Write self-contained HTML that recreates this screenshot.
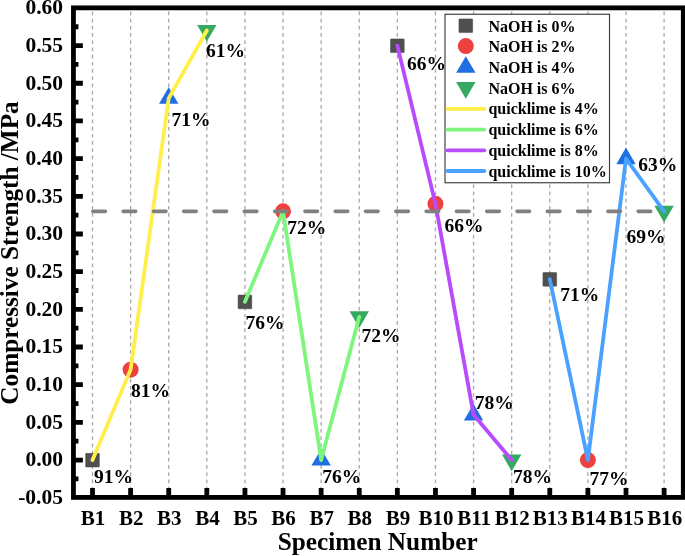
<!DOCTYPE html><html><head><meta charset="utf-8"><style>html,body{margin:0;padding:0;background:#fff;}svg{display:block;}text{font-family:"Liberation Serif","Times New Roman",serif;font-weight:bold;fill:#000;}</style></head><body>
<svg width="685" height="556" viewBox="0 0 685 556">
<rect width="685" height="556" fill="#fff"/>
<path d="M92.50,11.5V495.00M130.61,11.5V495.00M168.71,11.5V495.00M206.82,11.5V495.00M244.93,11.5V495.00M283.03,11.5V495.00M321.14,11.5V495.00M359.25,11.5V495.00M397.36,11.5V495.00M435.46,11.5V495.00M473.57,11.5V495.00M511.68,11.5V495.00M549.78,11.5V495.00M587.89,11.5V495.00M626.00,11.5V495.00M664.11,11.5V495.00" stroke="#a8a8a8" stroke-width="1.3" stroke-dasharray="3.7 3.5" fill="none"/>
<rect x="85.65" y="453.36" width="13.7" height="13.7" rx="0.6" fill="#505050" stroke="#464646" stroke-width="0.5"/>
<circle cx="130.61" cy="369.63" r="8" fill="#ef4040"/>
<polygon points="168.71,87.27 159.01,103.87 178.41,103.87" fill="#1f6fe3"/>
<polygon points="206.82,41.57 197.12,24.97 216.52,24.97" fill="#35a862"/>
<rect x="238.08" y="295.10" width="13.7" height="13.7" rx="0.6" fill="#505050" stroke="#464646" stroke-width="0.5"/>
<circle cx="283.03" cy="211.37" r="8" fill="#ef4040"/>
<polygon points="321.14,448.99 311.44,465.59 330.84,465.59" fill="#1f6fe3"/>
<polygon points="359.25,327.94 349.55,311.34 368.95,311.34" fill="#35a862"/>
<rect x="390.51" y="38.88" width="13.7" height="13.7" rx="0.6" fill="#505050" stroke="#464646" stroke-width="0.5"/>
<circle cx="435.46" cy="203.84" r="8" fill="#ef4040"/>
<polygon points="473.57,403.78 463.87,420.38 483.27,420.38" fill="#1f6fe3"/>
<polygon points="511.68,471.13 501.98,454.53 521.38,454.53" fill="#35a862"/>
<rect x="542.93" y="272.50" width="13.7" height="13.7" rx="0.6" fill="#505050" stroke="#464646" stroke-width="0.5"/>
<circle cx="587.89" cy="460.06" r="8" fill="#ef4040"/>
<polygon points="626.00,147.55 616.30,164.15 635.70,164.15" fill="#1f6fe3"/>
<polygon points="664.11,222.44 654.40,205.84 673.81,205.84" fill="#35a862"/>
<path d="M92.50,460.06 L130.61,369.63 L168.71,98.33 L206.82,30.51" stroke="#ffef4a" stroke-width="3.8" stroke-linecap="round" stroke-linejoin="round" fill="none"/>
<path d="M244.93,301.80 L283.03,211.37 L321.14,460.06 L359.25,316.88" stroke="#7ef67e" stroke-width="3.8" stroke-linecap="round" stroke-linejoin="round" fill="none"/>
<path d="M397.36,45.58 L435.46,203.84 L473.57,414.84 L511.68,460.06" stroke="#b84cfc" stroke-width="3.8" stroke-linecap="round" stroke-linejoin="round" fill="none"/>
<path d="M549.78,279.20 L587.89,460.06 L626.00,158.62 L664.11,211.37" stroke="#49a2ff" stroke-width="3.8" stroke-linecap="round" stroke-linejoin="round" fill="none"/>
<path d="M92.80,211.37H664.00" stroke="#808080" stroke-width="3.6" stroke-linecap="round" stroke-dasharray="12.6 17.7" fill="none"/>
<rect x="73.45" y="7.85" width="609.85" height="489.55" fill="none" stroke="#000" stroke-width="4.8"/>
<path d="M74.85,45.58H82.85M74.85,83.26H82.85M74.85,120.94H82.85M74.85,158.62H82.85M74.85,196.30H82.85M74.85,233.98H82.85M74.85,271.66H82.85M74.85,309.34H82.85M74.85,347.02H82.85M74.85,384.70H82.85M74.85,422.38H82.85M74.85,460.06H82.85M74.85,26.74H78.45M74.85,64.42H78.45M74.85,102.10H78.45M74.85,139.78H78.45M74.85,177.46H78.45M74.85,215.14H78.45M74.85,252.82H78.45M74.85,290.50H78.45M74.85,328.18H78.45M74.85,365.86H78.45M74.85,403.54H78.45M74.85,441.22H78.45M74.85,478.90H78.45M92.50,496.00V488.00M130.61,496.00V488.00M168.71,496.00V488.00M206.82,496.00V488.00M244.93,496.00V488.00M283.03,496.00V488.00M321.14,496.00V488.00M359.25,496.00V488.00M397.36,496.00V488.00M435.46,496.00V488.00M473.57,496.00V488.00M511.68,496.00V488.00M549.78,496.00V488.00M587.89,496.00V488.00M626.00,496.00V488.00M664.11,496.00V488.00" stroke="#000" stroke-width="4.8" fill="none"/>
<text x="63.0" y="14.30" font-size="21.5" text-anchor="end">0.60</text>
<text x="63.0" y="51.98" font-size="21.5" text-anchor="end">0.55</text>
<text x="63.0" y="89.66" font-size="21.5" text-anchor="end">0.50</text>
<text x="63.0" y="127.34" font-size="21.5" text-anchor="end">0.45</text>
<text x="63.0" y="165.02" font-size="21.5" text-anchor="end">0.40</text>
<text x="63.0" y="202.70" font-size="21.5" text-anchor="end">0.35</text>
<text x="63.0" y="240.38" font-size="21.5" text-anchor="end">0.30</text>
<text x="63.0" y="278.06" font-size="21.5" text-anchor="end">0.25</text>
<text x="63.0" y="315.74" font-size="21.5" text-anchor="end">0.20</text>
<text x="63.0" y="353.42" font-size="21.5" text-anchor="end">0.15</text>
<text x="63.0" y="391.10" font-size="21.5" text-anchor="end">0.10</text>
<text x="63.0" y="428.78" font-size="21.5" text-anchor="end">0.05</text>
<text x="63.0" y="466.46" font-size="21.5" text-anchor="end">0.00</text>
<text x="63.0" y="504.14" font-size="21.5" text-anchor="end">-0.05</text>
<text x="93.10" y="524.6" font-size="21" text-anchor="middle">B1</text>
<text x="131.21" y="524.6" font-size="21" text-anchor="middle">B2</text>
<text x="169.31" y="524.6" font-size="21" text-anchor="middle">B3</text>
<text x="207.42" y="524.6" font-size="21" text-anchor="middle">B4</text>
<text x="245.53" y="524.6" font-size="21" text-anchor="middle">B5</text>
<text x="283.63" y="524.6" font-size="21" text-anchor="middle">B6</text>
<text x="321.74" y="524.6" font-size="21" text-anchor="middle">B7</text>
<text x="359.85" y="524.6" font-size="21" text-anchor="middle">B8</text>
<text x="397.96" y="524.6" font-size="21" text-anchor="middle">B9</text>
<text x="436.06" y="524.6" font-size="21" text-anchor="middle">B10</text>
<text x="474.17" y="524.6" font-size="21" text-anchor="middle">B11</text>
<text x="512.28" y="524.6" font-size="21" text-anchor="middle">B12</text>
<text x="550.38" y="524.6" font-size="21" text-anchor="middle">B13</text>
<text x="588.49" y="524.6" font-size="21" text-anchor="middle">B14</text>
<text x="626.60" y="524.6" font-size="21" text-anchor="middle">B15</text>
<text x="664.71" y="524.6" font-size="21" text-anchor="middle">B16</text>
<text x="377.7" y="550.1" font-size="25.25" text-anchor="middle">Specimen Number</text>
<text transform="translate(17.6,253.0) rotate(-90)" x="0" y="0" font-size="25.25" text-anchor="middle">Compressive Strength /MPa</text>
<text x="94.10" y="483.00" font-size="19.5">91%</text>
<text x="131.00" y="397.00" font-size="19.5">81%</text>
<text x="171.60" y="126.20" font-size="19.5">71%</text>
<text x="206.00" y="56.90" font-size="19.5">61%</text>
<text x="245.60" y="328.60" font-size="19.5">76%</text>
<text x="287.20" y="233.90" font-size="19.5">72%</text>
<text x="322.30" y="483.20" font-size="19.5">76%</text>
<text x="361.60" y="341.90" font-size="19.5">72%</text>
<text x="407.00" y="70.10" font-size="19.5">66%</text>
<text x="444.50" y="231.70" font-size="19.5">66%</text>
<text x="474.80" y="408.60" font-size="19.5">78%</text>
<text x="513.10" y="483.20" font-size="19.5">78%</text>
<text x="560.30" y="300.80" font-size="19.5">71%</text>
<text x="589.50" y="485.40" font-size="19.5">77%</text>
<text x="638.20" y="170.80" font-size="19.5">63%</text>
<text x="626.60" y="242.80" font-size="19.5">69%</text>
<rect x="445.0" y="14.25" width="164.5" height="168.5" fill="#fff" stroke="#3c3c3c" stroke-width="1.15"/>
<rect x="458.95" y="18.90" width="13.7" height="13.7" rx="0.6" fill="#505050" stroke="#464646" stroke-width="0.5"/>
<circle cx="465.80" cy="46.10" r="8" fill="#ef4040"/>
<polygon points="465.80,56.23 456.10,72.83 475.50,72.83" fill="#1f6fe3"/>
<polygon points="465.80,98.67 456.10,82.07 475.50,82.07" fill="#35a862"/>
<path d="M447.5,108.90H484.4" stroke="#ffef4a" stroke-width="3.8" stroke-linecap="round"/>
<path d="M447.5,129.60H484.4" stroke="#7ef67e" stroke-width="3.8" stroke-linecap="round"/>
<path d="M447.5,150.30H484.4" stroke="#b84cfc" stroke-width="3.8" stroke-linecap="round"/>
<path d="M447.5,171.00H484.4" stroke="#49a2ff" stroke-width="3.8" stroke-linecap="round"/>
<text x="488.4" y="31.65" font-size="16">NaOH is 0%</text>
<text x="488.4" y="52.35" font-size="16">NaOH is 2%</text>
<text x="488.4" y="73.05" font-size="16">NaOH is 4%</text>
<text x="488.4" y="93.75" font-size="16">NaOH is 6%</text>
<text x="488.4" y="114.45" font-size="16">quicklime is 4%</text>
<text x="488.4" y="135.15" font-size="16">quicklime is 6%</text>
<text x="488.4" y="155.85" font-size="16">quicklime is 8%</text>
<text x="488.4" y="176.55" font-size="16">quicklime is 10%</text>
</svg></body></html>
